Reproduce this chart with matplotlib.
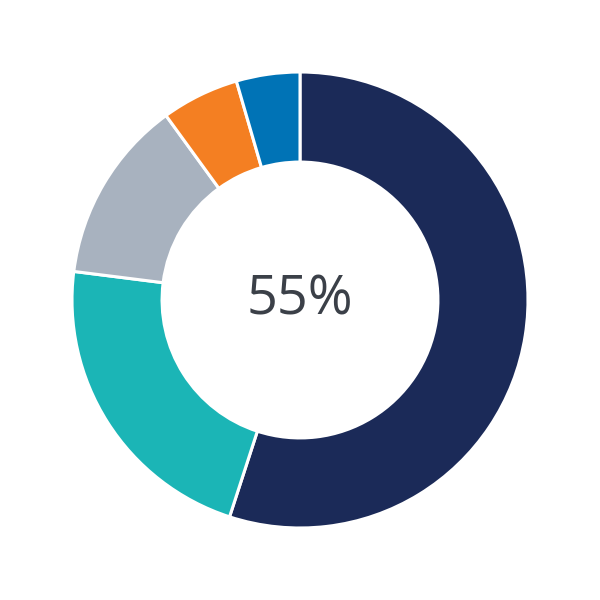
import matplotlib
matplotlib.use("Agg")
import matplotlib.pyplot as plt

labels = ["A", "B", "C", "D", "E"]
values = [55, 22, 13, 5.5, 4.5]
colors = ["#1b2a58", "#1bb5b6", "#a8b2bf", "#f47f22", "#0073b6"]
center_text = "55%"

fig = plt.figure(figsize=(6, 6), dpi=100)
ax = fig.add_axes([0, 0, 1, 1])
ax.pie(values, colors=colors, startangle=90, counterclock=False,
       radius=1.0,
       wedgeprops=dict(width=0.395, edgecolor="white", linewidth=2.2))
lim = 300 / 228
ax.set_xlim(-lim, lim)
ax.set_ylim(-lim, lim)
ax.set_aspect("equal")
ax.axis("off")
ax.text(0, 0, center_text, ha="center", va="center", fontsize=39,
        family=["Open Sans", "DejaVu Sans"], fontweight="normal", color="#3b4048")
fig.savefig("out.png", dpi=100, facecolor="white")
